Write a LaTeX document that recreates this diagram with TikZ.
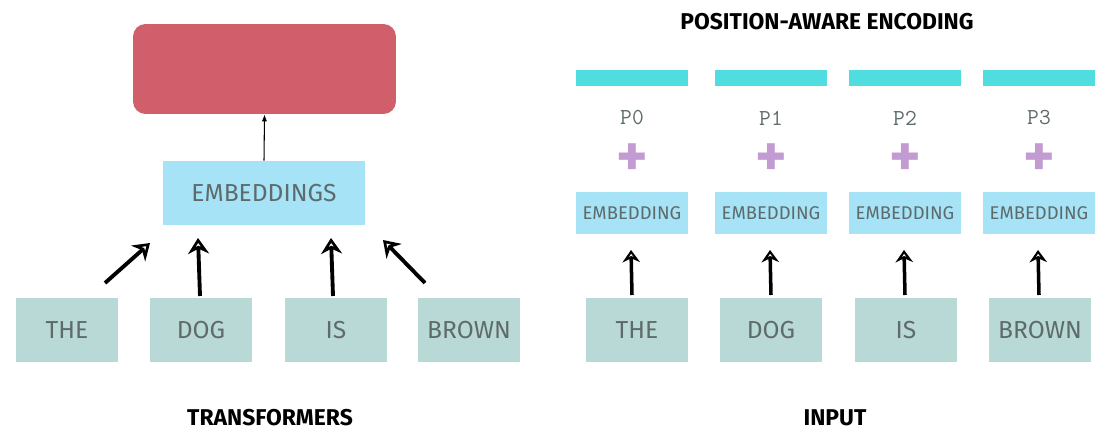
\documentclass[tikz,border=0pt]{standalone}
\usepackage{fontspec}
\setmainfont{Fira Sans}
\usetikzlibrary{arrows.meta}
\definecolor{redb}{HTML}{D05F6B}
\definecolor{embb}{HTML}{A6E3F7}
\definecolor{wordb}{HTML}{B9D9D6}
\definecolor{cyanb}{HTML}{50DDE0}
\definecolor{plusc}{HTML}{C39BD3}
\definecolor{txt}{HTML}{5E6B6B}
\begin{document}
\begin{tikzpicture}[x=0.02cm,y=-0.02cm,
 word/.style={fill=wordb,draw=none,minimum width=2.04cm,minimum height=1.3cm,text=txt,font=\fontsize{14}{14}\selectfont,inner sep=0},
 emb/.style={fill=embb,draw=none,minimum width=2.24cm,minimum height=0.84cm,text=txt,font=\fontsize{10.5}{10.5}\selectfont,inner sep=0},
 bar/.style={fill=cyanb,draw=none,minimum width=2.24cm,minimum height=0.32cm,inner sep=0},
 pl/.style={text=txt,font=\ttfamily\fontsize{13}{13}\selectfont},
 plus/.style={text=plusc,font=\bfseries\fontsize{34}{34}\selectfont},
 big/.style={line width=2.2pt,-{Stealth[open,length=9pt,width=12pt,line width=2.2pt]},shorten <=0pt},
 title/.style={font=\bfseries\fontsize{13}{13}\selectfont}]
\useasboundingbox (0,0) rectangle (1106,442);
% left
\node[fill=redb,rounded corners=0.25cm,minimum width=5.26cm,minimum height=1.8cm,inner sep=0] (red) at (264.5,69) {};
\node[emb,minimum width=4.04cm,minimum height=1.28cm,font=\fontsize{14}{14}\selectfont] (E) at (264,193) {EMBEDDINGS};
\draw[-{Latex[length=4pt,width=3pt]},line width=0.6pt] (E.north) -- (red.south);
\node[word] (w1) at (67,330) {THE};
\node[word] (w2) at (201,330) {DOG};
\node[word] (w3) at (336,330) {IS};
\node[word] (w4) at (469,330) {BROWN};
\coordinate (a1s) at (105,283); \coordinate (a1e) at (150,243);
\coordinate (a2s) at (200,296); \coordinate (a2e) at (198,238);
\coordinate (a3s) at (333,296); \coordinate (a3e) at (331,238);
\coordinate (a4s) at (425,283); \coordinate (a4e) at (383,240);
\draw[big] (a1s) -- (a1e);
\draw[big] (a2s) -- (a2e);
\draw[big] (a3s) -- (a3e);
\draw[big] (a4s) -- (a4e);
\node[title] (t1) at (270,418) {TRANSFORMERS};
% right
\node[title] (t2) at (827,22) {POSITION-AWARE ENCODING};
\node[title] (t3) at (835,418) {INPUT};
\foreach \i/\x/\w/\lab in {0/632/637/THE,1/771/771/DOG,2/905/906/IS,3/1039/1040/BROWN}{
  \node[bar] (b\i) at (\x,78) {};
  \node[pl] (p\i) at (\x,118) {P\i};
  \node[plus] (s\i) at (\x,160) {+};
  \node[emb] (e\i) at (\x,213) {EMBEDDING};
  \node[word] (v\i) at (\w,330) {\lab};
  \draw[line width=2pt,-{Stealth[open,length=7pt,width=10pt,line width=2pt]}] (\x,295) -- (\x-1,250);
}
\end{tikzpicture}
\end{document}
